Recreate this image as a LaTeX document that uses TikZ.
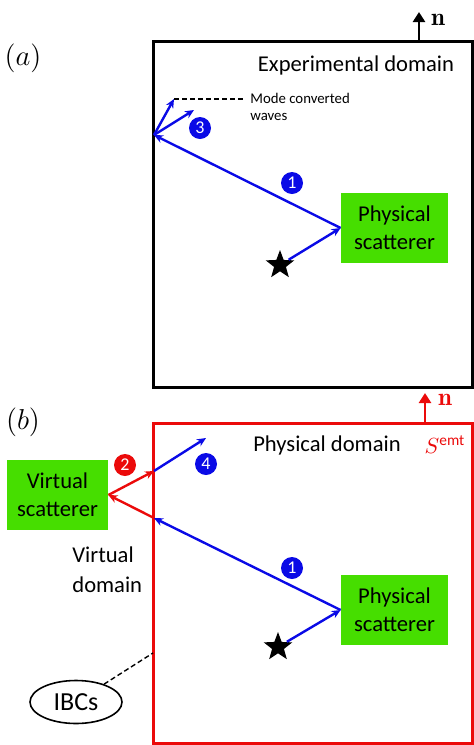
\documentclass[tikz,border=0pt]{standalone}
\usepackage{amsmath}
\usepackage{fontspec}
\setsansfont{Carlito}
\usetikzlibrary{shapes.geometric, arrows.meta, positioning, calc}
\definecolor{waveblue}{RGB}{10, 10, 230}
\definecolor{scatgreen}{RGB}{70, 222, 0}
\definecolor{emtred}{RGB}{235, 10, 10}

\begin{document}
\begin{tikzpicture}[
    x=0.5pt, y=-0.5pt,
    every node/.style={font=\sffamily\fontsize{11.3}{14}\selectfont},
    scatbox/.style={rectangle, fill=scatgreen, minimum width=53.5pt, minimum height=35pt, align=center, inner sep=1pt},
    domainbox/.style={line width=1.5pt},
    normalarrow/.style={-{Triangle[length=5pt, width=6pt]}, line width=1.3pt},
    ray/.style={-{Stealth[length=4.5pt, width=4pt]}, line width=1.2pt, color=waveblue},
    redray/.style={ray, color=emtred},
    raylabel/.style={circle, fill=waveblue, text=white, inner sep=0pt, minimum size=11pt, font=\sffamily\fontsize{9}{9}\selectfont},
    source/.style={star, star points=5, star point ratio=2.4, fill=black, inner sep=0pt, minimum size=15pt},
    note/.style={dash pattern=on 2.5pt off 1.5pt, line width=0.7pt}
]
\useasboundingbox (0,0) rectangle (474,745);

% (a) Experimental domain
\coordinate (expnw) at (153,41);
\coordinate (expse) at (472,387);
\draw[domainbox] (expnw) rectangle (expse);
\coordinate (expn) at (419,41);
\coordinate (expntip) at (419,12);
\draw[normalarrow] (expn) -- (expntip);
\node at (438,20) {\fontsize{12.5}{12.5}\selectfont$\mathbf{n}$};
\node at (23,58) {\fontsize{14}{14}\selectfont$(a)$};
\node at (356,65) {Experimental domain};

\node[scatbox] (physa) at (394.5,228) {Physical\\scatterer};
\node[source] (stara) at (280,265) {};
\coordinate (walla) at (154,135);
\coordinate (modea) at (174,99);
\coordinate (modeb) at (194,110);
\draw[ray] (stara) -- (physa.west);
\draw[ray] (physa.west) -- (walla);
\draw[ray] (walla) -- (modea);
\draw[ray] (walla) -- (modeb);
\node[raylabel] (laba1) at (292,183) {1};
\node[raylabel] (laba3) at (200,128) {3};

\node[anchor=north west, align=left, inner sep=0pt, font=\sffamily\fontsize{7.4}{8.6}\selectfont] (modetext) at (250,93) {Mode converted\\waves};
\draw[note] (modea) -- ($(modea -| modetext.west)+(-4,0)$);

% (b) Physical domain + virtual domain
\coordinate (emtnw) at (153,423);
\coordinate (emtse) at (472,743);
\draw[domainbox, emtred] (emtnw) rectangle (emtse);
\coordinate (emtn) at (425,423);
\coordinate (emtntip) at (425,393);
\draw[normalarrow, emtred] (emtn) -- (emtntip);
\node[text=emtred] at (445,400) {\fontsize{12.5}{12.5}\selectfont$\mathbf{n}$};
\node[text=emtred] at (445,445) {\fontsize{11}{11}\selectfont$S^{\text{emt}}$};
\node at (23,422) {\fontsize{14}{14}\selectfont$(b)$};
\node at (327,445) {Physical domain};

\node[scatbox] (physb) at (394.5,610) {Physical\\scatterer};
\node[scatbox, minimum width=50.5pt] (virt) at (57.5,495) {Virtual\\scatterer};
\node[source] (starb) at (278,647) {};
\coordinate (wallb1) at (154,518);
\coordinate (wallb2) at (154,471);
\coordinate (outb) at (206,438);
\draw[ray] (starb) -- (physb.west);
\draw[ray] (physb.west) -- (wallb1);
\draw[redray] (wallb1) -- (virt.east);
\draw[redray] (virt.east) -- (wallb2);
\draw[ray] (wallb2) -- (outb);
\node[raylabel] (labb1) at (292,568) {1};
\node[raylabel, fill=emtred] (labb2) at (125,465) {2};
\node[raylabel] (labb4) at (206,464) {4};

\node[align=left, anchor=west, inner sep=0pt, font=\sffamily\fontsize{11.3}{15}\selectfont] (virtdom) at (72,570) {Virtual\\domain};
\node[ellipse, draw, line width=0.8pt, minimum width=46pt, minimum height=21.5pt, inner sep=0pt, font=\sffamily\fontsize{13}{13}\selectfont] (ibc) at (76,702) {IBCs};
\coordinate (ibcwall) at (153,653);
\draw[note] (ibc) -- (ibcwall);

\end{tikzpicture}
\end{document}
